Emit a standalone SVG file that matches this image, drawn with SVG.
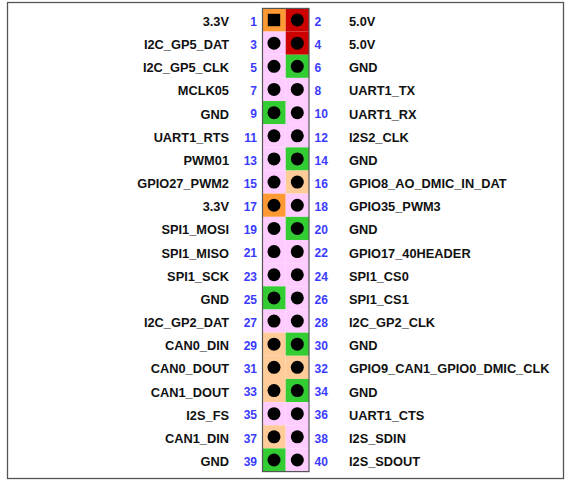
<svg xmlns="http://www.w3.org/2000/svg" width="572" height="485" viewBox="0 0 572 485">
<style>
.lab{font-family:"Liberation Sans",Arial,sans-serif;font-weight:bold;font-size:12.8px;fill:#111}
.l{text-anchor:end}
.num{font-family:"Liberation Sans",Arial,sans-serif;font-weight:bold;font-size:12px;fill:#3b3bff}
.pk{fill:#ffccff}.gr{fill:#33cc33}.or{fill:#ff9933}.pe{fill:#ffcc99}.rd{fill:#cc0000}
.dot{fill:#000}
</style>
<rect x="7.5" y="2.5" width="556" height="476" fill="#fff" stroke="#555" stroke-width="1.3"/>
<g id="connectors"></g>
<g id="header">
<g id="pin1"><rect class="or" x="262.5" y="8.42" width="23.2" height="23.16"/><rect class="dot" x="267.8" y="13.8" width="12.4" height="12.4"/><text class="num l" x="257" y="25.8">1</text><text class="lab l" x="229" y="26">3.3V</text></g>
<g id="pin2"><rect class="rd" x="285.7" y="8.42" width="23.3" height="23.16"/><circle class="dot" cx="297.3" cy="20" r="6.5"/><text class="num" x="314.5" y="25.8">2</text><text class="lab" x="349" y="26">5.0V</text></g>
<g id="pin3"><rect class="pk" x="262.5" y="31.58" width="23.2" height="23.16"/><circle class="dot" cx="274" cy="43.16" r="6.5"/><text class="num l" x="257" y="48.96">3</text><text class="lab l" x="229" y="49.16">I2C_GP5_DAT</text></g>
<g id="pin4"><rect class="rd" x="285.7" y="31.58" width="23.3" height="23.16"/><circle class="dot" cx="297.3" cy="43.16" r="6.5"/><text class="num" x="314.5" y="48.96">4</text><text class="lab" x="349" y="49.16">5.0V</text></g>
<g id="pin5"><rect class="pk" x="262.5" y="54.74" width="23.2" height="23.16"/><circle class="dot" cx="274" cy="66.32" r="6.5"/><text class="num l" x="257" y="72.12">5</text><text class="lab l" x="229" y="72.32">I2C_GP5_CLK</text></g>
<g id="pin6"><rect class="gr" x="285.7" y="54.74" width="23.3" height="23.16"/><circle class="dot" cx="297.3" cy="66.32" r="6.5"/><text class="num" x="314.5" y="72.12">6</text><text class="lab" x="349" y="72.32">GND</text></g>
<g id="pin7"><rect class="pk" x="262.5" y="77.89" width="23.2" height="23.16"/><circle class="dot" cx="274" cy="89.47" r="6.5"/><text class="num l" x="257" y="95.27">7</text><text class="lab l" x="229" y="95.47">MCLK05</text></g>
<g id="pin8"><rect class="pk" x="285.7" y="77.89" width="23.3" height="23.16"/><circle class="dot" cx="297.3" cy="89.47" r="6.5"/><text class="num" x="314.5" y="95.27">8</text><text class="lab" x="349" y="95.47">UART1_TX</text></g>
<g id="pin9"><rect class="gr" x="262.5" y="101.05" width="23.2" height="23.16"/><circle class="dot" cx="274" cy="112.63" r="6.5"/><text class="num l" x="257" y="118.43">9</text><text class="lab l" x="229" y="118.63">GND</text></g>
<g id="pin10"><rect class="pk" x="285.7" y="101.05" width="23.3" height="23.16"/><circle class="dot" cx="297.3" cy="112.63" r="6.5"/><text class="num" x="314.5" y="118.43">10</text><text class="lab" x="349" y="118.63">UART1_RX</text></g>
<g id="pin11"><rect class="pk" x="262.5" y="124.21" width="23.2" height="23.16"/><circle class="dot" cx="274" cy="135.79" r="6.5"/><text class="num l" x="257" y="141.59">11</text><text class="lab l" x="229" y="141.79">UART1_RTS</text></g>
<g id="pin12"><rect class="pk" x="285.7" y="124.21" width="23.3" height="23.16"/><circle class="dot" cx="297.3" cy="135.79" r="6.5"/><text class="num" x="314.5" y="141.59">12</text><text class="lab" x="349" y="141.79">I2S2_CLK</text></g>
<g id="pin13"><rect class="pk" x="262.5" y="147.37" width="23.2" height="23.16"/><circle class="dot" cx="274" cy="158.95" r="6.5"/><text class="num l" x="257" y="164.75">13</text><text class="lab l" x="229" y="164.95">PWM01</text></g>
<g id="pin14"><rect class="gr" x="285.7" y="147.37" width="23.3" height="23.16"/><circle class="dot" cx="297.3" cy="158.95" r="6.5"/><text class="num" x="314.5" y="164.75">14</text><text class="lab" x="349" y="164.95">GND</text></g>
<g id="pin15"><rect class="pk" x="262.5" y="170.53" width="23.2" height="23.16"/><circle class="dot" cx="274" cy="182.11" r="6.5"/><text class="num l" x="257" y="187.91">15</text><text class="lab l" x="229" y="188.11">GPIO27_PWM2</text></g>
<g id="pin16"><rect class="pe" x="285.7" y="170.53" width="23.3" height="23.16"/><circle class="dot" cx="297.3" cy="182.11" r="6.5"/><text class="num" x="314.5" y="187.91">16</text><text class="lab" x="349" y="188.11">GPIO8_AO_DMIC_IN_DAT</text></g>
<g id="pin17"><rect class="or" x="262.5" y="193.68" width="23.2" height="23.16"/><circle class="dot" cx="274" cy="205.26" r="6.5"/><text class="num l" x="257" y="211.06">17</text><text class="lab l" x="229" y="211.26">3.3V</text></g>
<g id="pin18"><rect class="pk" x="285.7" y="193.68" width="23.3" height="23.16"/><circle class="dot" cx="297.3" cy="205.26" r="6.5"/><text class="num" x="314.5" y="211.06">18</text><text class="lab" x="349" y="211.26">GPIO35_PWM3</text></g>
<g id="pin19"><rect class="pk" x="262.5" y="216.84" width="23.2" height="23.16"/><circle class="dot" cx="274" cy="228.42" r="6.5"/><text class="num l" x="257" y="234.22">19</text><text class="lab l" x="229" y="234.42">SPI1_MOSI</text></g>
<g id="pin20"><rect class="gr" x="285.7" y="216.84" width="23.3" height="23.16"/><circle class="dot" cx="297.3" cy="228.42" r="6.5"/><text class="num" x="314.5" y="234.22">20</text><text class="lab" x="349" y="234.42">GND</text></g>
<g id="pin21"><rect class="pk" x="262.5" y="240" width="23.2" height="23.16"/><circle class="dot" cx="274" cy="251.58" r="6.5"/><text class="num l" x="257" y="257.38">21</text><text class="lab l" x="229" y="257.58">SPI1_MISO</text></g>
<g id="pin22"><rect class="pk" x="285.7" y="240" width="23.3" height="23.16"/><circle class="dot" cx="297.3" cy="251.58" r="6.5"/><text class="num" x="314.5" y="257.38">22</text><text class="lab" x="349" y="257.58">GPIO17_40HEADER</text></g>
<g id="pin23"><rect class="pk" x="262.5" y="263.16" width="23.2" height="23.16"/><circle class="dot" cx="274" cy="274.74" r="6.5"/><text class="num l" x="257" y="280.54">23</text><text class="lab l" x="229" y="280.74">SPI1_SCK</text></g>
<g id="pin24"><rect class="pk" x="285.7" y="263.16" width="23.3" height="23.16"/><circle class="dot" cx="297.3" cy="274.74" r="6.5"/><text class="num" x="314.5" y="280.54">24</text><text class="lab" x="349" y="280.74">SPI1_CS0</text></g>
<g id="pin25"><rect class="gr" x="262.5" y="286.32" width="23.2" height="23.16"/><circle class="dot" cx="274" cy="297.89" r="6.5"/><text class="num l" x="257" y="303.69">25</text><text class="lab l" x="229" y="303.89">GND</text></g>
<g id="pin26"><rect class="pk" x="285.7" y="286.32" width="23.3" height="23.16"/><circle class="dot" cx="297.3" cy="297.89" r="6.5"/><text class="num" x="314.5" y="303.69">26</text><text class="lab" x="349" y="303.89">SPI1_CS1</text></g>
<g id="pin27"><rect class="pk" x="262.5" y="309.47" width="23.2" height="23.16"/><circle class="dot" cx="274" cy="321.05" r="6.5"/><text class="num l" x="257" y="326.85">27</text><text class="lab l" x="229" y="327.05">I2C_GP2_DAT</text></g>
<g id="pin28"><rect class="pk" x="285.7" y="309.47" width="23.3" height="23.16"/><circle class="dot" cx="297.3" cy="321.05" r="6.5"/><text class="num" x="314.5" y="326.85">28</text><text class="lab" x="349" y="327.05">I2C_GP2_CLK</text></g>
<g id="pin29"><rect class="pe" x="262.5" y="332.63" width="23.2" height="23.16"/><circle class="dot" cx="274" cy="344.21" r="6.5"/><text class="num l" x="257" y="350.01">29</text><text class="lab l" x="229" y="350.21">CAN0_DIN</text></g>
<g id="pin30"><rect class="gr" x="285.7" y="332.63" width="23.3" height="23.16"/><circle class="dot" cx="297.3" cy="344.21" r="6.5"/><text class="num" x="314.5" y="350.01">30</text><text class="lab" x="349" y="350.21">GND</text></g>
<g id="pin31"><rect class="pe" x="262.5" y="355.79" width="23.2" height="23.16"/><circle class="dot" cx="274" cy="367.37" r="6.5"/><text class="num l" x="257" y="373.17">31</text><text class="lab l" x="229" y="373.37">CAN0_DOUT</text></g>
<g id="pin32"><rect class="pe" x="285.7" y="355.79" width="23.3" height="23.16"/><circle class="dot" cx="297.3" cy="367.37" r="6.5"/><text class="num" x="314.5" y="373.17">32</text><text class="lab" x="349" y="373.37">GPIO9_CAN1_GPIO0_DMIC_CLK</text></g>
<g id="pin33"><rect class="pe" x="262.5" y="378.95" width="23.2" height="23.16"/><circle class="dot" cx="274" cy="390.53" r="6.5"/><text class="num l" x="257" y="396.33">33</text><text class="lab l" x="229" y="396.53">CAN1_DOUT</text></g>
<g id="pin34"><rect class="gr" x="285.7" y="378.95" width="23.3" height="23.16"/><circle class="dot" cx="297.3" cy="390.53" r="6.5"/><text class="num" x="314.5" y="396.33">34</text><text class="lab" x="349" y="396.53">GND</text></g>
<g id="pin35"><rect class="pk" x="262.5" y="402.11" width="23.2" height="23.16"/><circle class="dot" cx="274" cy="413.68" r="6.5"/><text class="num l" x="257" y="419.48">35</text><text class="lab l" x="229" y="419.68">I2S_FS</text></g>
<g id="pin36"><rect class="pk" x="285.7" y="402.11" width="23.3" height="23.16"/><circle class="dot" cx="297.3" cy="413.68" r="6.5"/><text class="num" x="314.5" y="419.48">36</text><text class="lab" x="349" y="419.68">UART1_CTS</text></g>
<g id="pin37"><rect class="pe" x="262.5" y="425.26" width="23.2" height="23.16"/><circle class="dot" cx="274" cy="436.84" r="6.5"/><text class="num l" x="257" y="442.64">37</text><text class="lab l" x="229" y="442.84">CAN1_DIN</text></g>
<g id="pin38"><rect class="pk" x="285.7" y="425.26" width="23.3" height="23.16"/><circle class="dot" cx="297.3" cy="436.84" r="6.5"/><text class="num" x="314.5" y="442.64">38</text><text class="lab" x="349" y="442.84">I2S_SDIN</text></g>
<g id="pin39"><rect class="gr" x="262.5" y="448.42" width="23.2" height="23.16"/><circle class="dot" cx="274" cy="460" r="6.5"/><text class="num l" x="257" y="465.8">39</text><text class="lab l" x="229" y="466">GND</text></g>
<g id="pin40"><rect class="pk" x="285.7" y="448.42" width="23.3" height="23.16"/><circle class="dot" cx="297.3" cy="460" r="6.5"/><text class="num" x="314.5" y="465.8">40</text><text class="lab" x="349" y="466">I2S_SDOUT</text></g>
<rect x="262.5" y="8.42" width="46.5" height="463.16" fill="none" stroke="#555" stroke-width="1.2"/>
</g>
</svg>
